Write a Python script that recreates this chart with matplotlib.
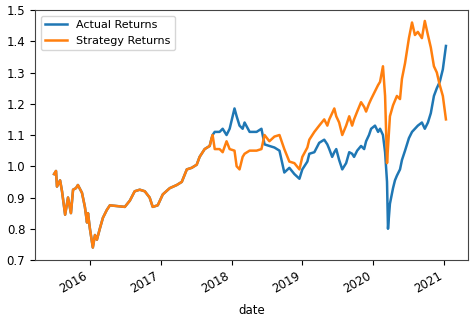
import matplotlib
matplotlib.use("Agg")
import matplotlib.pyplot as plt
import matplotlib.dates as mdates
import pandas as pd

# values (cumulative returns)
shared_dates = [
    "2015-06-30", "2015-07-10", "2015-07-15", "2015-07-31", "2015-08-10", "2015-08-26",
    "2015-09-10", "2015-09-25", "2015-10-06", "2015-10-21", "2015-10-31", "2015-11-21",
    "2015-12-06", "2015-12-17", "2015-12-22", "2016-01-01", "2016-01-16", "2016-01-27",
    "2016-02-06", "2016-02-21", "2016-03-08", "2016-03-28", "2016-04-13", "2016-06-29",
    "2016-07-25", "2016-08-19", "2016-09-14", "2016-10-10", "2016-11-04", "2016-11-20",
    "2016-12-16", "2017-01-11", "2017-02-16", "2017-03-24", "2017-04-19", "2017-05-15",
    "2017-06-09", "2017-07-05", "2017-07-20", "2017-08-15", "2017-09-10", "2017-09-20",
]
shared_values = [
    0.975, 0.985, 0.935, 0.955, 0.92, 0.845,
    0.90, 0.85, 0.925, 0.93, 0.94, 0.915,
    0.87, 0.82, 0.85, 0.80, 0.74, 0.78,
    0.765, 0.80, 0.835, 0.86, 0.875, 0.87,
    0.89, 0.92, 0.925, 0.92, 0.90, 0.87,
    0.875, 0.91, 0.93, 0.94, 0.95, 0.99,
    0.995, 1.005, 1.03, 1.055, 1.065, 1.09,
]

split_dates = [
    "2017-09-25", "2017-10-06", "2017-10-31", "2017-11-16", "2017-12-06", "2017-12-22",
    "2018-01-16", "2018-01-27", "2018-02-11", "2018-02-27", "2018-03-09", "2018-04-04",
    "2018-05-10", "2018-06-04", "2018-06-20", "2018-07-15", "2018-08-10", "2018-09-05",
    "2018-09-30", "2018-10-26", "2018-11-21", "2018-12-17", "2019-01-01", "2019-01-27",
    "2019-02-06", "2019-03-04", "2019-03-29", "2019-04-24", "2019-05-10", "2019-05-20",
    "2019-06-04", "2019-06-15", "2019-06-25", "2019-07-10", "2019-07-26", "2019-08-15",
    "2019-08-31", "2019-09-15", "2019-09-25", "2019-10-11", "2019-10-31", "2019-11-16",
    "2019-11-26", "2019-12-11", "2019-12-22", "2020-01-11", "2020-01-27", "2020-02-06",
    "2020-02-21", "2020-03-03", "2020-03-13", "2020-03-18", "2020-03-28", "2020-04-13",
    "2020-04-23", "2020-05-03", "2020-05-19", "2020-05-29", "2020-06-14", "2020-07-04",
    "2020-07-20", "2020-08-04", "2020-08-19", "2020-09-09", "2020-09-24", "2020-10-10",
    "2020-10-25", "2020-11-10", "2020-11-25", "2020-12-10", "2020-12-26", "2021-01-11",
]
actual_after = [
    1.10, 1.11, 1.11, 1.12, 1.10, 1.12,
    1.185, 1.16, 1.13, 1.12, 1.14, 1.11,
    1.11, 1.12, 1.07, 1.065, 1.06, 1.05,
    0.98, 0.995, 0.975, 0.96, 0.99, 1.015,
    1.04, 1.045, 1.075, 1.085, 1.07, 1.055,
    1.03, 1.045, 1.055, 1.02, 0.99, 1.01,
    1.045, 1.04, 1.03, 1.05, 1.065, 1.055,
    1.08, 1.10, 1.12, 1.13, 1.11, 1.12,
    1.10, 1.045, 0.95, 0.80, 0.88, 0.93,
    0.955, 0.97, 0.99, 1.02, 1.05, 1.09,
    1.11, 1.12, 1.13, 1.14, 1.12, 1.14,
    1.17, 1.225, 1.25, 1.27, 1.31, 1.385,
]
strategy_after = [
    1.10, 1.055, 1.055, 1.045, 1.08, 1.055,
    1.05, 1.00, 0.99, 1.03, 1.04, 1.05,
    1.05, 1.055, 1.10, 1.08, 1.095, 1.10,
    1.055, 1.015, 1.01, 0.99, 1.03, 1.06,
    1.085, 1.11, 1.13, 1.15, 1.13, 1.15,
    1.17, 1.185, 1.16, 1.14, 1.10, 1.13,
    1.16, 1.13, 1.15, 1.175, 1.205, 1.19,
    1.175, 1.20, 1.215, 1.24, 1.26, 1.27,
    1.32, 1.225, 1.01, 1.06, 1.16, 1.195,
    1.21, 1.225, 1.215, 1.28, 1.33, 1.41,
    1.46, 1.42, 1.43, 1.41, 1.465, 1.42,
    1.38, 1.32, 1.30, 1.26, 1.225, 1.15,
]

df = pd.DataFrame(
    {
        "Actual Returns": shared_values + actual_after,
        "Strategy Returns": shared_values + strategy_after,
    },
    index=pd.to_datetime(shared_dates + split_dates),
)
df.index.name = "date"

fig = plt.figure(figsize=(4.74, 3.23), dpi=100)
ax = fig.add_axes([0.074, 0.195, 0.913, 0.774])
ax.plot(df.index, df["Actual Returns"], color="#1f77b4", lw=1.8, label="Actual Returns")
ax.plot(df.index, df["Strategy Returns"], color="#ff7f0e", lw=1.8, label="Strategy Returns")

ax.set_xlim(pd.Timestamp("2015-03-24"), pd.Timestamp("2021-05-04"))
ax.set_ylim(0.7, 1.5)
ax.set_yticks([0.7, 0.8, 0.9, 1.0, 1.1, 1.2, 1.3, 1.4, 1.5])
ax.xaxis.set_major_locator(mdates.YearLocator())
ax.xaxis.set_major_formatter(mdates.DateFormatter("%Y"))
ax.tick_params(labelsize=8.5)
for lbl in ax.get_xticklabels():
    lbl.set_rotation(30)
    lbl.set_ha("right")
ax.set_xlabel("date", fontsize=8.5, labelpad=6)
for s in ax.spines.values():
    s.set_color("#444444")
ax.legend(loc="upper left", fontsize=8)

fig.savefig("out.png", dpi=100)
